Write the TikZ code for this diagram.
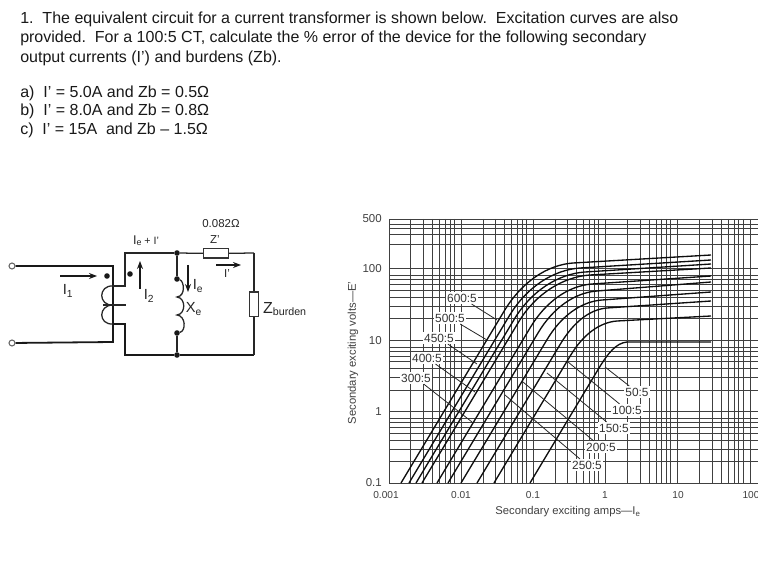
\documentclass[tikz,border=0pt]{standalone}
\usepackage{fontspec}
\usetikzlibrary{arrows.meta}
\setmainfont{Liberation Sans}
\begin{document}
\begin{tikzpicture}[x=0.75pt,y=-0.75pt,
  body/.style={anchor=base west,inner sep=0,font=\fontsize{12}{14}\selectfont,text=black!90},
  circ/.style={font=\fontsize{8.6}{10}\selectfont,inner sep=0,text=black!85},
  sub/.style={font=\fontsize{11}{13}\selectfont,inner sep=0,text=black!85},
  wire/.style={line width=0.95pt,black!85},
  wireb/.style={line width=1.35pt,black!90},
  flow/.style={line width=1.35pt,black!90,-{Stealth[length=6pt,width=4.5pt]}},
  junc/.style={circle,fill=black!90,inner sep=0,minimum size=4.2pt},
  term/.style={circle,draw=black!60,fill=white,line width=0.8pt,inner sep=0,minimum size=4.5pt},
  rblk/.style={draw=black!80,fill=white,line width=0.8pt,inner sep=0},
  gridl/.style={line width=0.6pt,black!75},
  curv/.style={line width=1pt,black!95},
  ratio/.style={fill=white,inner sep=1.2pt,font=\fontsize{8.9}{10}\selectfont,text=black!80},
  lead/.style={line width=0.6pt,black!85},
  tick/.style={font=\fontsize{7.6}{9}\selectfont,inner sep=0,text=black!75},
  ytick/.style={font=\fontsize{8.6}{9}\selectfont,inner sep=0,text=black!75,anchor=east},
  axl/.style={font=\fontsize{8.45}{10}\selectfont,inner sep=0,text=black!75}]
\useasboundingbox (0,0) rectangle (758,588);
\fill[white] (0,0) rectangle (758,588);
\begin{scope}
\clip (0,0) rectangle (758,588);
% text
\node[body] (t1) at (20,23.5) {1.\ \ The equivalent circuit for a current transformer is shown below.\ \ Excitation curves are also};
\node[body] (t2) at (20,43) {provided.\ \ For a 100:5 CT, calculate the \% error of the device for the following secondary};
\node[body] (t3) at (20,62.5) {output currents (I’) and burdens (Zb).};
\node[body] (qa) at (20,98) {a)\ \ I’ = 5.0A and Zb = 0.5Ω};
\node[body] (qb) at (20,116) {b)\ \ I’ = 8.0A and Zb = 0.8Ω};
\node[body] (qc) at (20,135) {c)\ \ I’ = 15A\ \ and Zb – 1.5Ω};

% grid
\foreach \d in {0,...,5}{
  \pgfmathsetmacro{\xb}{389+72.2*\d}
  \draw[gridl] (\xb,219) -- (\xb,483);
  \foreach \m in {0.301,0.477,0.602,0.699,0.778,0.845,0.903}{
    \pgfmathsetmacro{\xx}{\xb+72.2*\m}
    \draw[gridl] (\xx,219) -- (\xx,483);
  }
}
\draw[gridl] (389,483) -- (758,483);
\foreach \d in {0,1,2}{
  \pgfmathsetmacro{\yb}{483-71.4*\d}
  \foreach \m in {0.301,0.477,0.602,0.699,0.778,0.845,0.903,1}{
    \pgfmathsetmacro{\yy}{\yb-71.4*\m}
    \draw[gridl] (389,\yy) -- (758,\yy);
  }
}
\foreach \yy in {244,234,228,224,219}{\draw[gridl] (389,\yy) -- (758,\yy);}

% curves: bottom x / knee x / knee y / end y
\foreach \xb/\qx/\qy/\ey in {401/573/263/255,409/580/268/260,416/585/272/264,422/590/275/268,437/592/284/276,448/597/291/282,461/602/300/292,477/607/308/301,494/617/321/316,530/627/342/342}{
  \pgfmathsetmacro{\hh}{0.28*(\qx-\xb)}
  \pgfmathsetmacro{\py}{\qy+\hh}
  \pgfmathsetmacro{\px}{\xb+0.6*(483-\py)}
  \pgfmathsetmacro{\cax}{\px+0.36*\hh}
  \pgfmathsetmacro{\cay}{\py-0.6*\hh}
  \pgfmathsetmacro{\cbx}{\qx-0.38*(\qx-\px)}
  \pgfmathsetmacro{\cby}{\qy+0.04*\hh}
  \draw[curv] (\xb,483) -- (\px,\py) .. controls (\cax,\cay) and (\cbx,\cby) .. (\qx,\qy) -- (711,\ey);
}

% ratio labels and leaders
\coordinate (c600) at (497,320);
\coordinate (c500) at (487,340);
\coordinate (c450) at (477,364);
\coordinate (c400) at (475,392);
\coordinate (c300) at (472,422);
\coordinate (c250) at (505,395);
\coordinate (c200) at (523,382);
\coordinate (c150) at (547,373);
\coordinate (c100) at (568,362);
\coordinate (c50) at (605,367);
\node[ratio] (l600) at (462,298) {600:5};
\node[ratio] (l500) at (450,318) {500:5};
\node[ratio] (l450) at (439,338) {450:5};
\node[ratio] (l400) at (427,358) {400:5};
\node[ratio] (l300) at (416,378) {300:5};
\node[ratio] (l250) at (587,465) {250:5};
\node[ratio] (l200) at (601,447) {200:5};
\node[ratio] (l150) at (614,428) {150:5};
\node[ratio] (l100) at (627,410) {100:5};
\node[ratio] (l50) at (637,392) {50:5};
\foreach \r in {600,500,450,400,300,250,200,150,100,50}{
  \draw[lead] (l\r) -- (c\r);
}

% axis labels
\node[ytick] (y500) at (382,219) {500};
\node[ytick] (y100) at (382,269) {100};
\node[ytick] (y10) at (382,341) {10};
\node[ytick] (y1) at (382,412) {1};
\node[ytick] (y01) at (382,483) {0.1};
\node[tick] (x0) at (386,495) {0.001};
\node[tick] (x1) at (461,495) {0.01};
\node[tick] (x2) at (533,495) {0.1};
\node[tick] (x3) at (605,495) {1};
\node[tick] (x4) at (678,495) {10};
\node[tick] (x5) at (751,495) {100};
\node[axl,rotate=90] (ylab) at (353,353) {Secondary exciting volts—E’};
\node[axl] (xlab) at (568,512) {Secondary exciting amps—I\textsubscript{e}};

% circuit
\node[term] (tp) at (12,266) {};
\node[term] (tq) at (12,343) {};
\coordinate (pa) at (113,266);
\coordinate (pb) at (113,342);
\draw[wireb] (tp) -- (pa) -- (pb) -- (tq);
\coordinate (ca) at (113,286);
\coordinate (cm) at (113,305);
\coordinate (cb) at (113,324);
\draw[wire] (ca) .. controls (98,285) and (98,306) .. (cm) .. controls (98,305) and (98,325) .. (cb);
\coordinate (tap) at (126,305);
\draw[wire] (103,305) -- (tap);
\coordinate (sa) at (125,253);
\coordinate (sb) at (125,355);
\coordinate (ne) at (254,253);
\coordinate (se) at (254,355);
\node[junc] (j1) at (177,253) {};
\node[junc] (j2) at (177,279) {};
\node[junc] (j3) at (177,333) {};
\node[junc] (j4) at (177,355) {};
\node[junc] (d1) at (107,276) {};
\node[junc] (d2) at (130,274) {};
\draw[wire] (ca) -- (125,286) -- (sa) -- (j1);
\draw[wireb] (cb) -- (125,324) -- (sb) -- (j4) -- (se);
\node[rblk,minimum width=19pt,minimum height=6.8pt] (rz) at (216,253.5) {};
\draw[wire] (j1) -- (rz) -- (ne);
\node[rblk,minimum width=6.6pt,minimum height=18.7pt] (rb) at (254,304.5) {};
\draw[wire] (ne) -- (rb) -- (se);
\draw[wire] (j1) -- (j2);
\draw[wire] (j3) -- (j4);
\draw[wire] (j2) .. controls (184,281) and (186,296) .. (177,297) .. controls (186,298) and (186,314) .. (177,315) .. controls (186,316) and (186,331) .. (j3);
\coordinate (i1a) at (60,276);\coordinate (i1b) at (97,276);
\coordinate (i2a) at (140,289);\coordinate (i2b) at (140,261);
\coordinate (iea) at (188,265);\coordinate (ieb) at (188,292);
\coordinate (ipa) at (216,265);\coordinate (ipb) at (241,265);
\draw[flow] (i1a) -- (i1b);
\draw[flow] (i2a) -- (i2b);
\draw[flow] (iea) -- (ieb);
\draw[flow] (ipa) -- (ipb);
\node[circ] (v) at (221,224) {0.082Ω};
\node[circ] (zp) at (215,240) {Z’};
\node[circ] (ieip) at (146,241) {\fontsize{9.5}{10}\selectfont I\textsubscript{e}\,\fontsize{8}{10}\selectfont + I’};
\node[circ] (ip) at (227,274) {I’};
\node[sub] (i1l) at (68,291) {I\textsubscript{1}};
\node[sub] (i2l) at (149,296) {I\textsubscript{2}};
\node[sub] (iel) at (198,286) {I\textsubscript{e}};
\node[sub] (xel) at (194,309) {X\textsubscript{e}};
\node[sub,font=\fontsize{12}{13}\selectfont] (zbl) at (285,309) {Z\textsubscript{burden}};
\end{scope}
\end{tikzpicture}
\end{document}
